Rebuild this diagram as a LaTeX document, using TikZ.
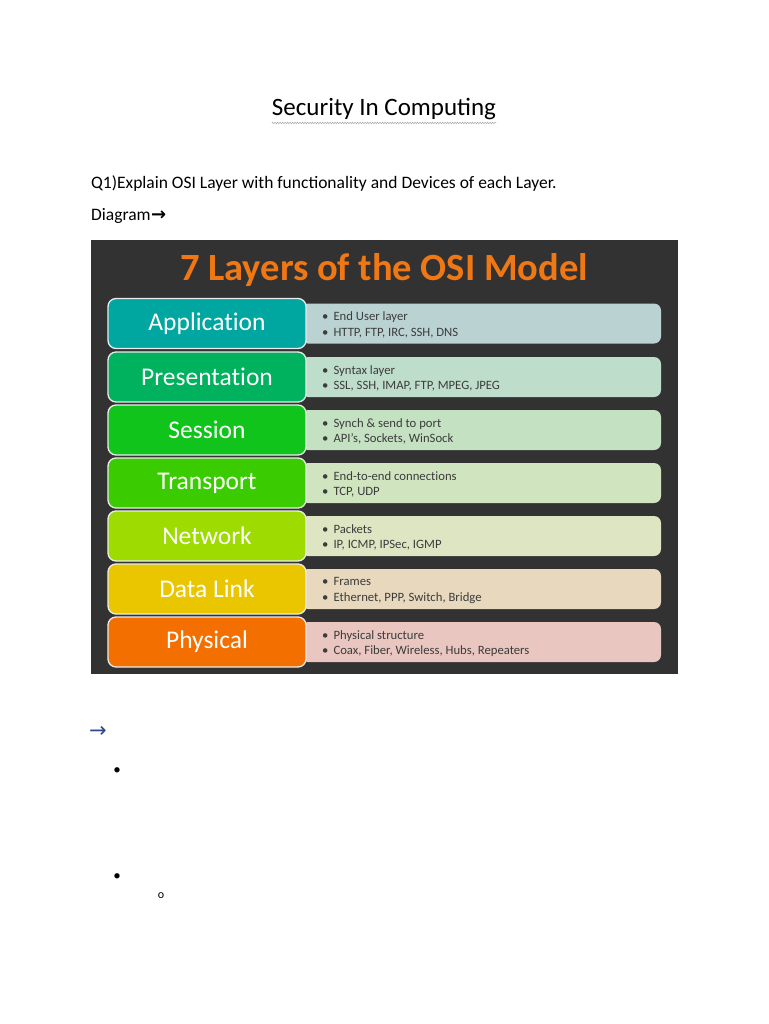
\documentclass[tikz,border=0pt]{standalone}
\usepackage{fontspec}
\setmainfont{Carlito}
\newfontfamily\arrowfont{DejaVu Sans}
\newfontfamily\carlnolig[Ligatures=NoCommon]{Carlito}
\usetikzlibrary{decorations.pathmorphing}
\definecolor{bgdark}{HTML}{323232}
\definecolor{osiorange}{HTML}{F07814}
\definecolor{arrowblue}{HTML}{2F4A8A}
\definecolor{lA}{HTML}{00A7A0}
\definecolor{lP}{HTML}{00B15E}
\definecolor{lS}{HTML}{10C41C}
\definecolor{lT}{HTML}{3ACC00}
\definecolor{lN}{HTML}{9EDB00}
\definecolor{lD}{HTML}{E9C600}
\definecolor{lY}{HTML}{F26F00}
\definecolor{rA}{HTML}{BAD3D2}
\definecolor{rP}{HTML}{BEDDCB}
\definecolor{rS}{HTML}{C4E1C2}
\definecolor{rT}{HTML}{D0E4BF}
\definecolor{rN}{HTML}{DEE5C2}
\definecolor{rD}{HTML}{E7D8BE}
\definecolor{rY}{HTML}{E9C6C0}
\definecolor{desctext}{HTML}{3C3C3C}
\tikzset{
  bodytext/.style={anchor=base west, inner sep=0pt, font=\fontsize{17.5}{20}\selectfont},
  layerbox/.style={draw=white!85!gray, line width=1.3pt, rounded corners=8pt, minimum width=198pt, minimum height=50pt, inner sep=0pt},
  layerlabel/.style={inner sep=0pt, text=white, font=\carlnolig\fontsize{25.5}{28}\selectfont},
  descbox/.style={rounded corners=7pt, minimum width=360pt, minimum height=40pt, inner sep=0pt},
  desctxt/.style={anchor=west, align=left, inner sep=0pt, text=desctext, font=\carlnolig\fontsize{12.7}{15.5}\selectfont},
}
\begin{document}
\begin{tikzpicture}[x=1pt,y=-1pt]
\useasboundingbox (0,0) rectangle (768,1024);
\fill[white] (0,0) rectangle (768,1024);
% page title
\node[inner sep=0pt, anchor=base, font=\fontsize{25}{28}\selectfont] (title) at (384,116) {Security In Computing};
\draw[gray!70, line width=0.5pt, decorate, decoration={snake, amplitude=0.7pt, segment length=2.5pt}] (title.south west) ++(0,2.5) coordinate (wl) -- (title.south east |- wl) coordinate (wr);
\node[bodytext] (q1) at (91,189) {Q1)Explain OSI Layer with functionality and Devices of each Layer.};
\node[bodytext] (diag) at (91,221) {Diagram};
\node[inner sep=0pt, anchor=base west, font=\arrowfont\bfseries\fontsize{18}{20}\selectfont] (diagarrow) at (diag.base east) {→};
% diagram background
\fill[bgdark] (91,240) rectangle (678,674);
\node[inner sep=0pt, anchor=center, text=osiorange, font=\bfseries\fontsize{38.5}{42}\selectfont] (osititle) at (384,270) {7 Layers of the OSI Model};
% rows
\foreach \name/\lc/\rc/\yy/\la/\lb [count=\i] in {
  Application/lA/rA/323.5/End User layer/{HTTP, FTP, IRC, SSH, DNS},
  Presentation/lP/rP/377/Syntax layer/{SSL, SSH, IMAP, FTP, MPEG, JPEG},
  Session/lS/rS/430/Synch \& send to port/{API’s, Sockets, WinSock},
  Transport/lT/rT/483/End-to-end connections/{TCP, UDP},
  Network/lN/rN/536/Packets/{IP, ICMP, IPSec, IGMP},
  Data Link/lD/rD/589/Frames/{Ethernet, PPP, Switch, Bridge},
  Physical/lY/rY/642/Physical structure/{Coax, Fiber, Wireless, Hubs, Repeaters}} {
  \node[descbox, fill=\rc] (d\i) at (481,\yy) {};
  \node[layerbox, fill=\lc] (l\i) at (207,\yy) {};
  \node[layerlabel] (n\i) at (207,\yy) {\name};
  \node[desctxt] (t\i) at (322,\yy+1.5) {•\hspace{5pt}\la\\•\hspace{5pt}\lb};
}
% bottom marks
\node[inner sep=0pt, anchor=base west, text=arrowblue, font=\arrowfont\fontsize{21}{22}\selectfont] (arr2) at (89,737) {→};
\node[inner sep=0pt, anchor=center, font=\fontsize{15}{16}\selectfont] (b1) at (117,771) {•};
\node[inner sep=0pt, anchor=center, font=\fontsize{15}{16}\selectfont] (b2) at (117,877) {•};
\node[inner sep=0pt, anchor=center, font=\fontsize{12}{16}\selectfont] (b3) at (161,896) {o};
\end{tikzpicture}
\end{document}
